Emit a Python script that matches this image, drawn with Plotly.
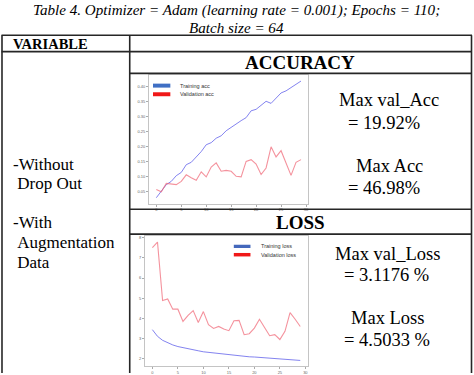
import plotly.graph_objects as go

# ---------------- data ----------------
epochs = list(range(30))
train_acc = [0.028, 0.050, 0.072, 0.083, 0.102, 0.113, 0.139, 0.147, 0.165, 0.183,
             0.206, 0.213, 0.228, 0.236, 0.253, 0.265, 0.276, 0.287, 0.297, 0.320,
             0.325, 0.339, 0.352, 0.345, 0.363, 0.380, 0.387, 0.398, 0.407, 0.420]
val_acc = [0.056, 0.048, 0.076, 0.075, 0.072, 0.083, 0.105, 0.095, 0.087, 0.115,
           0.098, 0.131, 0.145, 0.117, 0.120, 0.117, 0.100, 0.098, 0.150, 0.156,
           0.141, 0.106, 0.128, 0.199, 0.165, 0.186, 0.145, 0.103, 0.147, 0.156]
train_loss = [3.43, 3.10, 2.90, 2.77, 2.67, 2.59, 2.53, 2.48, 2.43, 2.38,
              2.33, 2.30, 2.26, 2.23, 2.20, 2.17, 2.15, 2.12, 2.10, 2.08,
              2.07, 2.05, 2.03, 2.02, 2.00, 1.98, 1.97, 1.95, 1.93, 1.90]
val_loss = [7.51, 7.79, 4.88, 4.96, 4.45, 4.45, 3.84, 4.14, 4.38, 3.79,
            4.33, 3.68, 3.49, 3.59, 3.46, 3.38, 3.87, 3.89, 3.18, 3.23,
            3.51, 3.95, 3.54, 3.13, 3.18, 2.94, 3.35, 4.28, 3.95, 3.59]

x_ticks = [0, 5, 10, 15, 20, 25, 30]
acc_ticks = [0.05, 0.10, 0.15, 0.20, 0.25, 0.30, 0.35, 0.40]
acc_tick_labels = ["0.05", "0.10", "0.15", "0.20", "0.25", "0.30", "0.35", "0.40"]
loss_ticks = [2, 3, 4, 5, 6, 7, 8]
loss_tick_labels = ["2", "3", "4", "5", "6", "7", "8"]

title_lines = ["Table 4. Optimizer = Adam (learning rate = 0.001); Epochs = 110;",
               "Batch size = 64"]
variable_lines = ["-Without", " Drop Out", "-With", " Augmentation", " Data"]
acc_stats = ["Max val_Acc", "= 19.92%", "Max Acc", "= 46.98%"]
loss_stats = ["Max val_Loss", "= 3.1176 %", "Max Loss", "= 4.5033 %"]

W, H = 474, 375
def px(x):
    return x / W
def py(y):
    return 1 - y / H

TRAIN_COL = "rgba(100,100,235,0.8)"
VAL_COL = "rgba(240,100,115,0.7)"

fig = go.Figure()
fig.add_trace(go.Scatter(x=epochs, y=train_acc, mode="lines", line=dict(color=TRAIN_COL, width=1),
                         xaxis="x", yaxis="y", showlegend=False, hoverinfo="skip"))
fig.add_trace(go.Scatter(x=epochs, y=val_acc, mode="lines", line=dict(color=VAL_COL, width=1.1),
                         xaxis="x", yaxis="y", showlegend=False, hoverinfo="skip"))
fig.add_trace(go.Scatter(x=epochs, y=train_loss, mode="lines", line=dict(color=TRAIN_COL, width=1),
                         xaxis="x2", yaxis="y2", showlegend=False, hoverinfo="skip"))
fig.add_trace(go.Scatter(x=epochs, y=val_loss, mode="lines", line=dict(color=VAL_COL, width=1.1),
                         xaxis="x2", yaxis="y2", showlegend=False, hoverinfo="skip"))

tickfont = dict(family="Liberation Sans", size=4, color="#666")
axis_common = dict(showline=True, mirror=True, linecolor="#c4c4c4", linewidth=1,
                   showgrid=False, zeroline=False, ticks="outside", ticklen=2,
                   tickcolor="#aaa", tickfont=tickfont, fixedrange=True)

fig.update_layout(
    width=W, height=H, autosize=False,
    margin=dict(l=0, r=0, t=0, b=0),
    paper_bgcolor="white", plot_bgcolor="white",
    xaxis=dict(domain=[px(149.4), px(308.9)], range=[-1.45, 30.45], anchor="y",
               tickvals=x_ticks, ticktext=[str(v) for v in x_ticks], **axis_common),
    yaxis=dict(domain=[py(204.2), py(74.8)], range=[0.0084, 0.4396], anchor="x",
               tickvals=acc_ticks, ticktext=acc_tick_labels, **axis_common),
    xaxis2=dict(domain=[px(145.3), px(308.3)], range=[-1.45, 30.45], anchor="y2",
                tickvals=x_ticks, ticktext=[str(v) for v in x_ticks], **axis_common),
    yaxis2=dict(domain=[py(368.4), py(236.9)], range=[1.6, 8.09], anchor="x2",
                tickvals=loss_ticks, ticktext=loss_tick_labels, **axis_common),
)

# ---------------- table lines ----------------
LC = "#262626"
LW = 1.6
def hline(y, x0, x1):
    fig.add_shape(type="line", xref="paper", yref="paper", x0=px(x0), x1=px(x1),
                  y0=py(y), y1=py(y), line=dict(color=LC, width=LW))
def vline(x, y0, y1):
    fig.add_shape(type="line", xref="paper", yref="paper", x0=px(x), x1=px(x),
                  y0=py(y0), y1=py(y1), line=dict(color=LC, width=LW))

hline(34.5, 1.5, 473)
hline(51, 1.5, 473)
hline(73, 130, 473)
hline(210, 130, 473)
hline(235, 130, 473)
vline(2, 34.5, 375)
vline(130, 34.5, 375)
vline(472.5, 34.5, 375)

# ---------------- legends inside the charts ----------------
def patch(x0, x1, y0, y1, color):
    fig.add_shape(type="rect", xref="paper", yref="paper", x0=px(x0), x1=px(x1),
                  y0=py(y1), y1=py(y0), line=dict(width=0), fillcolor=color)

def note(text, x, y, size, xanchor="center", family="Liberation Serif", color="black"):
    fig.add_annotation(text=text, x=px(x), y=py(y), xref="paper", yref="paper",
                       xanchor=xanchor, yanchor="middle", showarrow=False,
                       font=dict(family=family, size=size, color=color))

patch(153.3, 170.7, 83.3, 87.3, "#3f6fc4")
patch(153.3, 170.7, 92.0, 96.0, "#f01818")
note("Training acc", 178.5, 85.3, 5.5, "left", "Liberation Sans", "#333")
note("Validation acc", 178.5, 94.0, 5.5, "left", "Liberation Sans", "#333")

patch(234.3, 251.0, 245.7, 249.0, "#4468bc")
patch(234.3, 251.0, 254.0, 257.5, "#f01818")
note("Training loss", 260.0, 247.3, 5.5, "left", "Liberation Sans", "#333")
note("Validation loss", 260.0, 255.8, 5.5, "left", "Liberation Sans", "#333")

# ---------------- text ----------------
note("<i>" + title_lines[0] + "</i>", 237, 10, 15.1)
note("<i>" + title_lines[1] + "</i>", 237, 27, 15.1)
note("<b>VARIABLE</b>", 11, 43, 14.5, "left")
note("<b>ACCURACY</b>", 301, 62, 19)
note("<b>LOSS</b>", 301, 223, 19)

var_y = [165, 184.3, 223.3, 243.3, 263.3]
for t, y in zip(variable_lines, var_y):
    note(t.replace(" ", "&nbsp;"), 11, y, 17, "left")

acc_pos = [(390, 100), (385, 122.7), (390.5, 166.7), (385, 188.3)]
for t, (x, y) in zip(acc_stats, acc_pos):
    note(t, x, y, 18.5)
loss_pos = [(388, 255), (387.5, 276.7), (389, 320), (387.5, 341.7)]
for t, (x, y) in zip(loss_stats, loss_pos):
    note(t, x, y, 18.5)

fig.write_html("out.html",
               config={"displayModeBar": False, "staticPlot": True},
               post_script="document.body.style.margin='0';document.body.style.overflow='hidden';")
